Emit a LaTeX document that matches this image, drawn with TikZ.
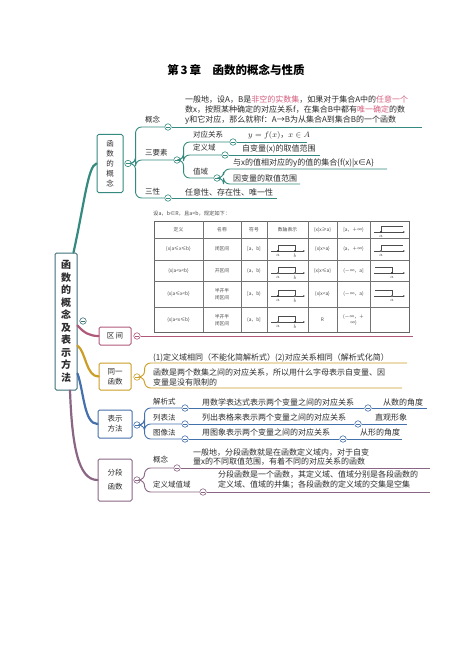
\documentclass[tikz,border=0pt]{standalone}
\usepackage{fontspec}
\setmainfont{Noto Sans CJK SC}
\usetikzlibrary{calc,arrows.meta}
\definecolor{tealc}{RGB}{52,138,126}
\definecolor{mainc}{RGB}{62,112,122}
\definecolor{pinkc}{RGB}{176,88,122}
\definecolor{goldc}{RGB}{204,158,38}
\definecolor{bluec}{RGB}{68,112,172}
\definecolor{mauvec}{RGB}{138,102,132}
\definecolor{hlc}{RGB}{212,96,128}
\definecolor{txtc}{RGB}{45,45,45}
\newcommand\hlt[1]{\textcolor{hlc}{#1}}
\newcommand\nlab[3]{%
 \draw[nl,-{Stealth[length=2pt,width=1.6pt]}] (271,#1+2) -- (305,#1+2);
 \draw[nl] (278,#1+2) -- (278,#1-4) -- (295,#1-4) -- (295,#1+2);
 \filldraw[nl,fill=#2] (278,#1+2) circle (0.9pt);
 \filldraw[nl,fill=#3] (295,#1+2) circle (0.9pt);
 \node[cell] (nla#1) at (278,#1+6.5) {$a$};
 \node[cell] (nlb#1) at (295,#1+6.5) {$b$};}
\newcommand\nlr[2]{%
 \draw[nl,-{Stealth[length=2pt,width=1.6pt]}] (374,#1+2) -- (405,#1+2);
 \draw[nl] (381,#1+2) -- (381,#1-4) -- (403,#1-4);
 \filldraw[nl,fill=#2] (381,#1+2) circle (0.9pt);
 \node[cell] (nlr#1) at (381,#1+6.5) {$a$};}
\newcommand\nll[2]{%
 \draw[nl,-{Stealth[length=2pt,width=1.6pt]}] (374,#1+2) -- (405,#1+2);
 \draw[nl] (375,#1-4) -- (392,#1-4) -- (392,#1+2);
 \filldraw[nl,fill=#2] (392,#1+2) circle (0.9pt);
 \node[cell] (nll#1) at (392,#1+6.5) {$a$};}
\begin{document}
\begin{tikzpicture}[x=1pt,y=-1pt,
  txt/.style={inner sep=0pt, anchor=west, font=\fontsize{8}{9.6}\selectfont, text=txtc, align=left},
  lab/.style={inner sep=0pt, anchor=west, font=\fontsize{7.5}{9}\selectfont, text=txtc},
  tog/.style={circle, draw=#1, fill=white, line width=0.6pt, inner sep=0pt, minimum size=6.5pt,
    path picture={\draw[#1, line width=0.5pt] ([xshift=-1.7pt]path picture bounding box.center) -- ([xshift=1.7pt]path picture bounding box.center);}},
  br/.style={draw=#1, line width=0.9pt, rounded corners=6pt},
  ln/.style={draw=#1, line width=0.9pt},
  bx/.style={draw=#1, line width=1pt, fill=white, rounded corners=1.5pt, align=center, inner sep=0pt, text=txtc},
  spine/.style={draw=#1, line width=2.2pt, line cap=round},
  cell/.style={font=\fontsize{4.8}{6.5}\selectfont, text=black!70, inner sep=0pt, align=center},
  tb/.style={draw=black!55, line width=0.45pt},
  nl/.style={draw=black!70, line width=0.4pt},
]
\useasboundingbox[fill=white] (0,0) rectangle (474,671);

% title
\node[font=\fontsize{11.5}{12}\selectfont\bfseries, text=black] (title) at (236,70) {第\,3\,章　函数的概念与性质};

% main node
\node[bx=mainc, minimum width=22pt, minimum height=137pt, font=\fontsize{10}{12.5}\selectfont\bfseries] (M) at (66,321.5)
  {函\\数\\的\\概\\念\\及\\表\\示\\方\\法};
\node[tog=mainc] (tM) at (83,321) {};

% ---------- 函数的概念 ----------
\node[bx=tealc, minimum width=26pt, minimum height=58pt, font=\fontsize{7.5}{10}\selectfont] (B1) at (110,163.5)
  {函\\数\\的\\概\\念};
\draw[spine=tealc] ([xshift=-4pt]M.north east) .. controls (85,200) and (88,166) .. (B1.west);
\node[tog=tealc] (c1) at (128,163.5) {};

\node[tog=tealc] (g1) at (168,127) {};
\node[tog=tealc] (g2) at (177,160) {};
\node[tog=tealc] (g3) at (168,198) {};
\draw[br=tealc] (c1.east) -- ++(4,0) |- (g1.west);
\draw[br=tealc] (c1.east) -- ++(4,0) |- (g2.west);
\draw[br=tealc] (c1.east) -- ++(4,0) |- (g3.west);
\node[lab] (l1) at (145,120) {概念};
\node[lab] (l2) at (145,153) {三要素};
\node[lab] (l3) at (145,192) {三性};

\coordinate (e1) at (422,127);
\draw[ln=tealc] (g1.east) -- (e1);
\node[txt] (t1) at (185,110) {一般地，设A，B是\hlt{非空的实数集}，如果对于集合A中的\hlt{任意一个}\\
数x，按照某种确定的对应关系f，在集合B中都有\hlt{唯一确定}的数\\
y和它对应，那么就称f：A→B为从集合A到集合B的一个函数};

\node[tog=tealc] (h1) at (233,142) {};
\node[tog=tealc] (h2) at (225,155) {};
\node[tog=tealc] (h3) at (217,178) {};
\draw[br=tealc] (g2.east) -- ++(3,0) |- (h1.west);
\draw[br=tealc] (g2.east) -- ++(3,0) |- (h2.west);
\draw[br=tealc] (g2.east) -- ++(3,0) |- (h3.west);
\node[lab] (l4) at (193,135) {对应关系};
\node[lab] (l5) at (193,148) {定义域};
\node[lab] (l6) at (193,172) {值域};

\coordinate (e2) at (307,142);
\coordinate (e3) at (320,155);
\draw[ln=tealc] (h1.east) -- (e2);
\draw[ln=tealc] (h2.east) -- (e3);
\node[txt] (t2) at (248,135.5) {$y=f(x)$，$x\in A$};
\node[txt] (t3) at (242,148.5) {自变量(x)的取值范围};

\coordinate (e5) at (387,169);
\coordinate (e6) at (300,184);
\draw[br=tealc] (h3.east) -- ++(3,0) |- (e5);
\draw[br=tealc] (h3.east) -- ++(3,0) |- (e6);
\node[txt] (t5) at (233,163) {与x的值相对应的y的值的集合\{f(x)|x∈A\}};
\node[txt] (t6) at (233,178) {因变量的取值范围};

\coordinate (e4) at (277,198);
\draw[ln=tealc] (g3.east) -- (e4);
\node[txt] (t4) at (185,192.5) {任意性、存在性、唯一性};

% ---------- table ----------
\node[cell, anchor=west, font=\fontsize{5.3}{6}\selectfont] (cap) at (153,214) {设a，b∈R，且a<b，规定如下：};
\draw[draw=black!60, line width=0.8pt] (154,221) rectangle (409,332);
\foreach \xx in {203,241,267,308,337,370} \draw[tb] (\xx,221) -- (\xx,332);
\foreach \yy in {238,260,281,307} \draw[tb] (154,\yy) -- (409,\yy);

\node[cell] (r0c0) at (178.5,230) {定义};
\node[cell] (r0c1) at (222,230) {名称};
\node[cell] (r0c2) at (254,230) {符号};
\node[cell] (r0c3) at (287.5,230) {数轴表示};
\node[cell] (r0c4) at (322.5,230) {\{x|x≥a\}};
\node[cell] (r0c5) at (353.5,230) {[a，＋∞)};
\nlr{230}{black}

\node[cell] (r1c0) at (178.5,249) {\{x|a≤x≤b\}};
\node[cell] (r1c1) at (222,249) {闭区间};
\node[cell] (r1c2) at (254,249) {[a，b]};
\nlab{249}{black}{black}
\node[cell] (r1c4) at (322.5,249) {\{x|x>a\}};
\node[cell] (r1c5) at (353.5,249) {(a，＋∞)};
\nlr{249}{white}

\node[cell] (r2c0) at (178.5,271) {\{x|a<x<b\}};
\node[cell] (r2c1) at (222,271) {开区间};
\node[cell] (r2c2) at (254,271) {(a，b)};
\nlab{271}{white}{white}
\node[cell] (r2c4) at (322.5,271) {\{x|x≤a\}};
\node[cell] (r2c5) at (353.5,271) {(－∞，a]};
\nll{271}{black}

\node[cell] (r3c0) at (178.5,294) {\{x|a≤x<b\}};
\node[cell] (r3c1) at (222,294) {半开半\\闭区间};
\node[cell] (r3c2) at (254,294) {[a，b)};
\nlab{294}{black}{white}
\node[cell] (r3c4) at (322.5,294) {\{x|x<a\}};
\node[cell] (r3c5) at (353.5,294) {(－∞，a)};
\nll{294}{white}

\node[cell] (r4c0) at (178.5,320) {\{x|a<x≤b\}};
\node[cell] (r4c1) at (222,320) {半开半\\闭区间};
\node[cell] (r4c2) at (254,320) {(a，b]};
\nlab{320}{white}{black}
\node[cell] (r4c4) at (322.5,320) {R};
\node[cell] (r4c5) at (353.5,320) {(－∞，＋\\∞)};

% ---------- 区间 ----------
\node[bx=pinkc, minimum width=32pt, minimum height=18pt, font=\fontsize{7.5}{9}\selectfont] (B2) at (115,336) {区\,间};
\draw[spine=pinkc] ([yshift=-4pt]M.east) .. controls (84,333) and (90,336) .. (B2.west);
\node[tog=pinkc] (t2g) at (137,336) {};
\coordinate (e7) at (413,336);
\draw[ln=pinkc] (t2g.east) -- (e7);

% ---------- 同一函数 ----------
\node[bx=goldc, minimum width=32pt, minimum height=27pt, font=\fontsize{7.5}{10}\selectfont] (B3) at (115,376.5) {同一\\函数};
\draw[spine=goldc] ([yshift=-24pt]M.east) .. controls (86,352) and (86,376.5) .. (B3.west);
\node[tog=goldc] (t3g) at (137,377) {};
\coordinate (e8) at (407,363);
\coordinate (e9) at (402,388);
\draw[br=goldc] (t3g.east) -- ++(4,0) |- (e8);
\draw[br=goldc] (t3g.east) -- ++(4,0) |- (e9);
\node[txt] (t7) at (153,357.5) {(1)定义域相同（不能化简解析式）(2)对应关系相同（解析式化简）};
\node[txt] (t8) at (153,377.5) {函数是两个数集之间的对应关系，所以用什么字母表示自变量、因\\变量是没有限制的};

% ---------- 表示方法 ----------
\node[bx=bluec, minimum width=34pt, minimum height=28pt, font=\fontsize{7.5}{10}\selectfont] (B4) at (115,424) {表示\\方法};
\draw[spine=bluec] ([yshift=-52pt]M.east) .. controls (84,392) and (84,424) .. (B4.west);
\node[tog=bluec] (t4g) at (137,425) {};
\node[tog=bluec] (k1) at (185,408) {};
\node[tog=bluec] (k2) at (185,424) {};
\node[tog=bluec] (k3) at (185,439) {};
\draw[br=bluec] (t4g.east) -- ++(4,0) |- (k1.west);
\draw[br=bluec] (t4g.east) -- ++(4,0) |- (k2.west);
\draw[br=bluec] (t4g.east) -- ++(4,0) |- (k3.west);
\node[lab] (l7) at (153,402) {解析式};
\node[lab] (l8) at (153,417.5) {列表法};
\node[lab] (l9) at (153,432.5) {图像法};
\node[tog=bluec] (m1) at (368,408) {};
\node[tog=bluec] (m2) at (358,424) {};
\node[tog=bluec] (m3) at (343,439) {};
\draw[ln=bluec] (k1.east) -- (m1.west);
\draw[ln=bluec] (k2.east) -- (m2.west);
\draw[ln=bluec] (k3.east) -- (m3.west);
\node[txt] (t9) at (202,402) {用数学表达式表示两个变量之间的对应关系};
\node[txt] (t10) at (202,417.5) {列出表格来表示两个变量之间的对应关系};
\node[txt] (t11) at (202,432.5) {用图象表示两个变量之间的对应关系};
\coordinate (e10) at (427,408);
\coordinate (e11) at (407,424);
\coordinate (e12) at (402,439);
\draw[ln=bluec] (m1.east) -- (e10);
\draw[ln=bluec] (m2.east) -- (e11);
\draw[ln=bluec] (m3.east) -- (e12);
\node[txt] (t12) at (383,402) {从数的角度};
\node[txt] (t13) at (375,417.5) {直观形象};
\node[txt] (t14) at (360,432.5) {从形的角度};

% ---------- 分段函数 ----------
\node[bx=mauvec, minimum width=34pt, minimum height=42pt, font=\fontsize{7.5}{14}\selectfont] (B5) at (115,480) {分段\\函数};
\draw[spine=mauvec] ([xshift=4pt]M.south) .. controls (72,445) and (78,480) .. (B5.west);
\node[tog=mauvec] (t5g) at (137,480) {};
\node[tog=mauvec] (n1) at (177,468) {};
\node[tog=mauvec] (n2) at (203,492) {};
\draw[br=mauvec] (t5g.east) -- ++(4,0) |- (n1.west);
\draw[br=mauvec] (t5g.east) -- ++(4,0) |- (n2.west);
\node[lab] (l10) at (153,460) {概念};
\node[lab] (l11) at (153,485) {定义域值域};
\coordinate (e13) at (430,468);
\coordinate (e14) at (430,492);
\draw[ln=mauvec] (n1.east) -- (e13);
\draw[ln=mauvec] (n2.east) -- (e14);
\node[txt] (t15) at (193,457) {一般地，分段函数就是在函数定义域内，对于自变\\量x的不同取值范围，有着不同的对应关系的函数};
\node[txt] (t16) at (218,480) {分段函数是一个函数，其定义域、值域分别是各段函数的\\定义域、值域的并集；各段函数的定义域的交集是空集};
\end{tikzpicture}
\end{document}
